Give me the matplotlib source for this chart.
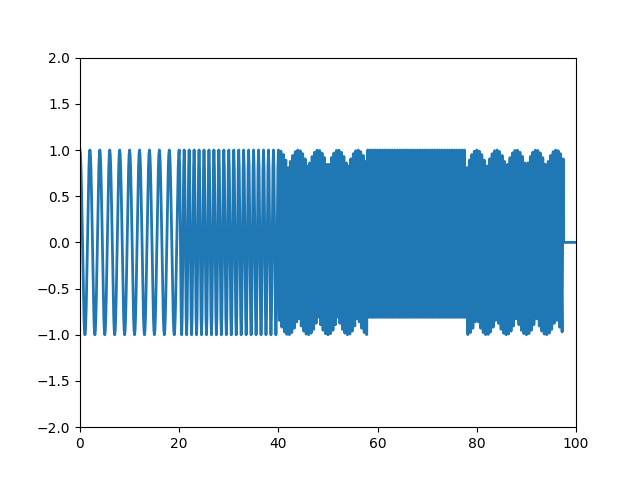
import numpy as np
import matplotlib
matplotlib.use("Agg")
import matplotlib.pyplot as plt

# segment boundaries (x) and tone frequencies per segment
seg_start = [0, 20, 40, 58, 78]
seg_end = [20, 40, 58, 78, 97.5]
seg_freq = [0.5, 1.0, 2.05, 4.0, 8.05]
dt = 0.1
x_end = 100

t = np.arange(0, x_end + dt / 2, dt)
y = np.zeros_like(t)
for s, e, f in zip(seg_start, seg_end, seg_freq):
    m = (t >= s) & (t < e)
    y[m] = np.cos(2 * np.pi * f * t[m])

fig, ax = plt.subplots(figsize=(6.4, 4.8), dpi=100)
ax.plot(t, y, color="#1f77b4", linewidth=2)
ax.set_xlim(0, 100)
ax.set_ylim(-2, 2)
fig.savefig("out.png")
